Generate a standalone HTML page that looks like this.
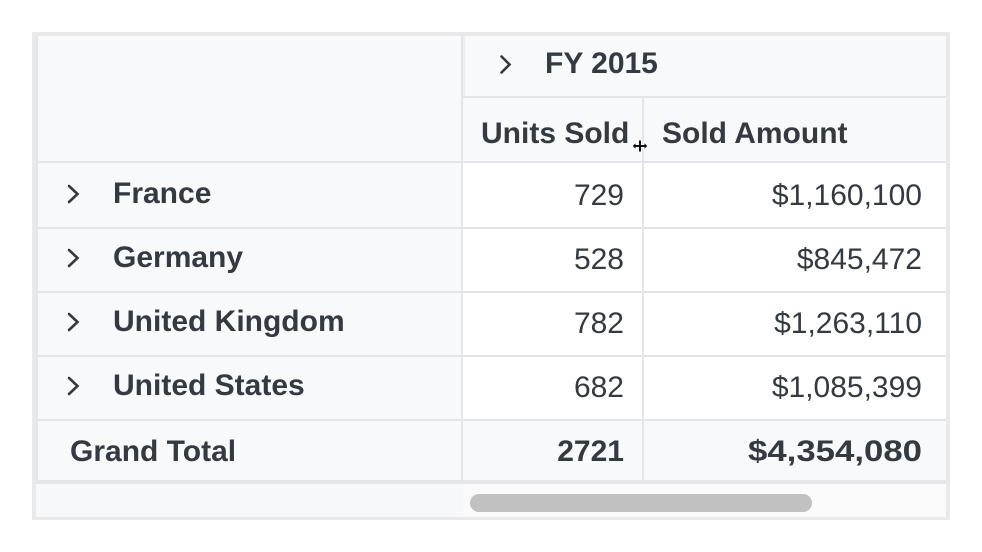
<!DOCTYPE html>
<html>
<head>
<meta charset="utf-8">
<style>
  html,body{margin:0;padding:0;background:#fff;}
  body{width:982px;height:552px;overflow:hidden;}
  svg{display:block;}
  text{font-family:"Liberation Sans",Arial,sans-serif;font-size:30px;fill:#343a40;}
  .b{font-weight:bold;}
</style>
</head>
<body>
<svg width="982" height="552" viewBox="0 0 982 552" xmlns="http://www.w3.org/2000/svg">
  <!-- outer border -->
  <rect x="32" y="32" width="918" height="488" fill="#e9e9e9"/>
  <!-- inner background -->
  <rect x="36" y="36" width="910" height="481" fill="#f8f9fa"/>
  <!-- left inner line -->
  <rect x="36" y="36" width="2" height="444" fill="#e3e5e9"/>

  <!-- data cells white -->
  <rect x="463" y="163" width="179" height="64" fill="#ffffff"/>
  <rect x="644" y="163" width="302" height="64" fill="#ffffff"/>
  <rect x="463" y="229" width="179" height="62" fill="#ffffff"/>
  <rect x="644" y="229" width="302" height="62" fill="#ffffff"/>
  <rect x="463" y="293" width="179" height="62" fill="#ffffff"/>
  <rect x="644" y="293" width="302" height="62" fill="#ffffff"/>
  <rect x="463" y="357" width="179" height="62" fill="#ffffff"/>
  <rect x="644" y="357" width="302" height="62" fill="#ffffff"/>

  <!-- horizontal grid lines -->
  <rect x="463" y="96" width="483" height="2" fill="#e3e5e9"/>
  <rect x="36" y="161" width="910" height="2" fill="#e3e5e9"/>
  <rect x="36" y="227" width="910" height="2" fill="#e3e5e9"/>
  <rect x="36" y="291" width="910" height="2" fill="#e3e5e9"/>
  <rect x="36" y="355" width="910" height="2" fill="#e3e5e9"/>
  <rect x="36" y="419" width="910" height="2" fill="#e3e5e9"/>
  <rect x="36" y="480" width="910" height="4" fill="#e4e6ea"/>

  <!-- vertical grid lines -->
  <rect x="461" y="36" width="2" height="444" fill="#e3e5e9"/>
  <rect x="463" y="36" width="2" height="60" fill="#eceef1"/>
  <rect x="642" y="98" width="2" height="382" fill="#e3e5e9"/>

  <!-- scroll area -->
  <rect x="36" y="484" width="427" height="33" fill="#f7f8f9"/>
  <rect x="463" y="484" width="483" height="33" fill="#fafafa"/>
  <rect x="470" y="494" width="342" height="18" rx="9" ry="9" fill="#c1c1c1"/>

  <!-- chevrons -->
  <g fill="none" stroke="#343a40" stroke-width="2.6" stroke-linecap="round" stroke-linejoin="miter">
    <polyline points="501.5,56.5 509.5,64.5 501.5,72.5"/>
    <polyline points="69,186 77.5,194 69,202"/>
    <polyline points="69,250 77.5,258 69,266"/>
    <polyline points="69,314 77.5,322 69,330"/>
    <polyline points="69,378 77.5,386 69,394"/>
  </g>

  <!-- header text -->
  <text class="b" x="545" y="73">FY 2015</text>
  <text class="b" x="481" y="143">Units Sold</text>
  <text class="b" x="662" y="143">Sold Amount</text>

  <!-- row labels -->
  <text class="b" x="113" y="203">France</text>
  <text class="b" x="113" y="267">Germany</text>
  <text class="b" x="113" y="331">United Kingdom</text>
  <text class="b" x="113" y="395">United States</text>
  <text class="b" x="70" y="461">Grand Total</text>

  <!-- numbers -->
  <text x="624" y="205" text-anchor="end">729</text>
  <text x="922" y="205" text-anchor="end">$1,160,100</text>
  <text x="624" y="269" text-anchor="end">528</text>
  <text x="922" y="269" text-anchor="end">$845,472</text>
  <text x="624" y="333" text-anchor="end">782</text>
  <text x="922" y="333" text-anchor="end">$1,263,110</text>
  <text x="624" y="397" text-anchor="end">682</text>
  <text x="922" y="397" text-anchor="end">$1,085,399</text>
  <text class="b" x="624" y="461" text-anchor="end">2721</text>
  <text class="b" x="922" y="461" text-anchor="end" textLength="174" lengthAdjust="spacingAndGlyphs">$4,354,080</text>

  <!-- resize cursor -->
  <g transform="translate(640,146)">
    <path d="M-8,0 L-4,-4 L-4,-1.5 L-1.5,-1.5 L-1.5,-6 L1.5,-6 L1.5,-1.5 L4,-1.5 L4,-4 L8,0 L4,4 L4,1.5 L1.5,1.5 L1.5,6 L-1.5,6 L-1.5,1.5 L-4,1.5 L-4,4 Z" fill="#111" stroke="#fff" stroke-width="1"/>
  </g>
</svg>
</body>
</html>
